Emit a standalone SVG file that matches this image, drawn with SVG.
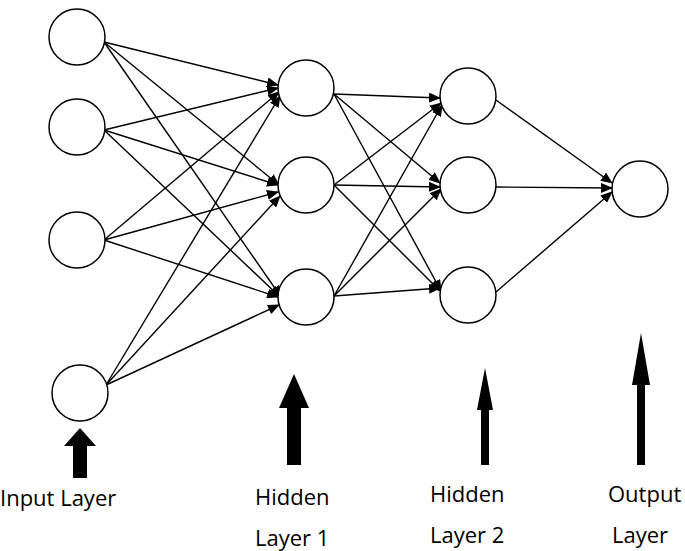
<svg xmlns="http://www.w3.org/2000/svg" width="685" height="551" viewBox="0 0 685 551">
<style>
circle{fill:#fff;stroke:#000;stroke-width:1.5}
.c line{stroke:#000;stroke-width:1.4;marker-end:url(#a)}
text{font-family:"Open Sans","Liberation Sans",sans-serif;font-size:22px;fill:#000}
</style>
<defs><marker id="a" markerWidth="12" markerHeight="10" refX="11" refY="5" orient="auto" markerUnits="userSpaceOnUse"><path d="M0,0L12,5L0,10z"/></marker></defs>
<rect width="685" height="551" fill="#fff"/>
<g class="c" id="connectors">
<line x1="104" y1="42" x2="278" y2="85"/><line x1="104" y1="42" x2="279" y2="185"/><line x1="104" y1="42" x2="281" y2="297"/>
<line x1="104" y1="130" x2="278" y2="88"/><line x1="104" y1="130" x2="278" y2="185"/><line x1="104" y1="130" x2="280" y2="297"/>
<line x1="104" y1="240" x2="279" y2="92"/><line x1="104" y1="240" x2="278" y2="192"/><line x1="104" y1="240" x2="278" y2="297"/>
<line x1="106" y1="385" x2="280" y2="96"/><line x1="106" y1="385" x2="280" y2="196"/><line x1="106" y1="385" x2="279" y2="305"/>
<line x1="334" y1="94" x2="440" y2="98"/><line x1="334" y1="94" x2="440" y2="183"/><line x1="334" y1="94" x2="441" y2="291"/>
<line x1="334" y1="185" x2="441" y2="103"/><line x1="334" y1="185" x2="440" y2="187"/><line x1="334" y1="185" x2="440" y2="291"/>
<line x1="334" y1="296" x2="442" y2="105"/><line x1="334" y1="296" x2="441" y2="189"/><line x1="334" y1="296" x2="440" y2="288"/>
<line x1="496" y1="100" x2="612" y2="183"/><line x1="496" y1="187" x2="612" y2="188"/><line x1="496" y1="292" x2="612" y2="192"/>
</g>
<g id="input"><circle cx="77" cy="37" r="28"/><circle cx="77" cy="127" r="28"/><circle cx="77" cy="240" r="28"/><circle cx="80" cy="393" r="28"/></g>
<g id="hidden1"><circle cx="306" cy="88" r="28"/><circle cx="306" cy="185" r="28"/><circle cx="306" cy="297" r="28"/></g>
<g id="hidden2"><circle cx="468" cy="96" r="28"/><circle cx="468" cy="185" r="28"/><circle cx="468" cy="295" r="28"/></g>
<g id="output"><circle cx="640" cy="189" r="28"/></g>
<g id="pointers" fill="#000">
<path d="M80,428L96,446H87V478H73V446H64Z"/>
<path d="M294,374L309,408H301V465H287V408H279Z"/>
<path d="M485,368L493,410H489V465H481V410H477Z"/>
<path d="M641,333L650,385H645V465H637V385H632Z"/>
</g>
<g id="labels">
<text x="0" y="506">Input Layer</text>
<text x="255" y="505">Hidden</text><text x="255" y="546">Layer 1</text>
<text x="430" y="502">Hidden</text><text x="430" y="543">Layer 2</text>
<text x="608" y="502">Output</text><text x="612" y="543">Layer</text>
</g>
</svg>
